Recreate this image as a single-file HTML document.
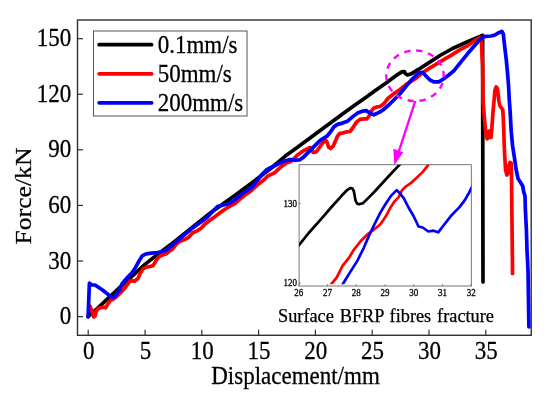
<!DOCTYPE html>
<html><head><meta charset="utf-8"><title>Force-Displacement</title>
<style>
html,body{margin:0;padding:0;background:#fff;}
svg{display:block;}
text{font-family:"Liberation Serif","Times New Roman",serif;fill:#000;stroke:#000;stroke-width:0.25px;}
.t{font-size:23px;}
.m{font-size:18.3px;word-spacing:1.3px;}
.s{font-size:9px;}
</style></head><body>
<svg width="550" height="400" viewBox="0 0 550 400">
<rect width="550" height="400" fill="#fff"/>
<rect x="77.5" y="20" width="453.7" height="315.3" fill="none" stroke="#303030" stroke-width="1.4"/>
<line x1="88.2" y1="335.3" x2="88.2" y2="329.8" stroke="#303030" stroke-width="1.2"/>
<text transform="translate(88.7,359.2) scale(1,1.115)" text-anchor="middle" class="t">0</text>
<line x1="145.1" y1="335.3" x2="145.1" y2="329.8" stroke="#303030" stroke-width="1.2"/>
<text transform="translate(145.5,359.2) scale(1,1.115)" text-anchor="middle" class="t">5</text>
<line x1="201.8" y1="335.3" x2="201.8" y2="329.8" stroke="#303030" stroke-width="1.2"/>
<text transform="translate(202.2,359.2) scale(1,1.115)" text-anchor="middle" class="t">10</text>
<line x1="258.6" y1="335.3" x2="258.6" y2="329.8" stroke="#303030" stroke-width="1.2"/>
<text transform="translate(259.0,359.2) scale(1,1.115)" text-anchor="middle" class="t">15</text>
<line x1="315.4" y1="335.3" x2="315.4" y2="329.8" stroke="#303030" stroke-width="1.2"/>
<text transform="translate(315.8,359.2) scale(1,1.115)" text-anchor="middle" class="t">20</text>
<line x1="372.2" y1="335.3" x2="372.2" y2="329.8" stroke="#303030" stroke-width="1.2"/>
<text transform="translate(372.6,359.2) scale(1,1.115)" text-anchor="middle" class="t">25</text>
<line x1="429.0" y1="335.3" x2="429.0" y2="329.8" stroke="#303030" stroke-width="1.2"/>
<text transform="translate(429.4,359.2) scale(1,1.115)" text-anchor="middle" class="t">30</text>
<line x1="485.8" y1="335.3" x2="485.8" y2="329.8" stroke="#303030" stroke-width="1.2"/>
<text transform="translate(486.2,359.2) scale(1,1.115)" text-anchor="middle" class="t">35</text>
<line x1="77.5" y1="316.6" x2="83" y2="316.6" stroke="#303030" stroke-width="1.2"/>
<text transform="translate(71.3,324.2) scale(1,1.115)" text-anchor="end" class="t">0</text>
<line x1="77.5" y1="261.0" x2="83" y2="261.0" stroke="#303030" stroke-width="1.2"/>
<text transform="translate(71.3,268.6) scale(1,1.115)" text-anchor="end" class="t">30</text>
<line x1="77.5" y1="205.4" x2="83" y2="205.4" stroke="#303030" stroke-width="1.2"/>
<text transform="translate(71.3,213.0) scale(1,1.115)" text-anchor="end" class="t">60</text>
<line x1="77.5" y1="149.8" x2="83" y2="149.8" stroke="#303030" stroke-width="1.2"/>
<text transform="translate(71.3,157.4) scale(1,1.115)" text-anchor="end" class="t">90</text>
<line x1="77.5" y1="94.2" x2="83" y2="94.2" stroke="#303030" stroke-width="1.2"/>
<text transform="translate(71.3,101.8) scale(1,1.115)" text-anchor="end" class="t">120</text>
<line x1="77.5" y1="38.7" x2="83" y2="38.7" stroke="#303030" stroke-width="1.2"/>
<text transform="translate(71.3,46.3) scale(1,1.115)" text-anchor="end" class="t">150</text>
<text transform="translate(295.5,384.2) scale(1,1.115)" text-anchor="middle" class="t">Displacement/mm</text>
<text transform="translate(31,196) scale(1,1.115) rotate(-90)" text-anchor="middle" class="t">Force/kN</text>
<polyline points="88.0,316.5 97.5,308.3 107.5,298.8 125.0,282.7 145.0,264.4 157.5,254.4 170.0,245.1 185.0,233.2 197.5,223.1 210.0,213.3 222.5,204.2 237.5,193.5 250.0,184.2 255.6,180.0 272.0,167.5 285.0,156.3 297.5,147.2 310.0,138.0 322.5,128.8 330.0,123.2 342.5,113.9 355.0,105.0 367.5,96.3 375.0,90.8 387.5,82.0 397.5,74.6 401.9,71.9 404.4,71.5 405.6,73.8 407.5,75.0 411.2,73.8 418.8,69.2 427.5,63.6 440.0,55.5 452.5,48.5 467.5,41.8 480.0,36.5 482.6,35.3 483.0,282.0" fill="none" stroke="#000" stroke-width="3.7" stroke-linejoin="round" stroke-linecap="round"/>
<polyline points="90.0,306.2 91.9,311.2 93.8,316.9 95.0,316.2 96.2,311.2 98.1,308.8 100.6,307.8 103.8,307.2 105.6,307.8 106.9,305.6 108.8,302.5 110.6,300.0 113.1,299.4 116.2,297.0 119.4,294.0 122.5,290.5 125.6,287.0 127.8,284.0 130.5,280.6 134.5,281.2 138.0,278.5 140.0,273.8 143.1,268.8 146.2,267.2 150.0,266.5 153.1,265.6 155.6,261.2 158.8,256.9 162.5,255.0 166.2,253.8 170.0,250.6 172.5,249.0 176.2,244.4 180.0,241.2 185.0,239.5 188.8,237.2 192.5,233.0 197.5,230.6 201.2,228.2 205.0,224.0 210.0,220.2 216.2,215.8 221.2,211.9 225.0,209.3 230.0,206.2 235.0,203.6 240.0,199.0 245.0,195.0 250.0,191.6 259.1,183.5 263.8,180.0 267.5,176.2 271.2,174.4 275.0,172.5 278.8,168.8 282.5,165.6 286.2,163.1 291.2,161.2 297.5,155.0 303.8,150.6 310.0,147.5 311.2,148.1 313.1,152.5 316.2,151.9 319.4,147.5 322.5,143.1 325.6,140.0 326.9,141.9 328.8,147.5 330.6,148.5 333.1,146.2 335.0,141.9 337.6,136.0 340.0,133.3 342.5,133.1 346.2,131.9 350.0,131.5 353.1,127.5 356.2,122.5 360.0,119.4 363.8,118.8 366.9,118.8 369.4,115.6 371.2,111.2 373.8,108.1 376.9,106.9 380.0,106.5 383.8,103.8 387.5,98.8 393.8,93.8 400.0,89.4 406.2,84.4 412.5,80.5 415.0,79.0 421.2,73.8 427.5,69.4 433.8,65.6 440.0,61.8 446.2,58.2 452.5,54.6 455.0,52.8 461.2,49.0 467.5,45.8 473.8,41.2 480.0,37.8 481.5,37.5 481.6,45.0 482.1,58.0 482.7,66.0 483.0,100.0 483.9,112.5 485.0,125.0 486.2,136.2 487.2,138.8 488.1,133.8 489.0,131.2 490.0,137.5 491.0,137.5 491.9,127.5 493.0,112.0 494.1,100.0 495.0,90.0 496.2,86.9 497.5,88.8 498.3,95.0 498.9,101.0 499.8,105.5 501.2,107.5 502.8,110.0 503.3,118.8 503.8,131.2 504.2,145.0 504.8,157.5 505.6,170.0 506.9,175.0 508.1,172.5 508.8,166.2 510.0,162.5 511.2,163.1 511.5,176.2 511.7,195.0 512.5,270.0 512.5,273.4" fill="none" stroke="#f00" stroke-width="3.7" stroke-linejoin="round" stroke-linecap="round"/>
<polyline points="88.1,316.9 89.4,283.1 91.9,285.0 95.0,285.0 102.5,290.0 111.2,296.9 113.8,297.2 116.2,295.0 119.3,290.0 122.0,284.0 123.2,282.5 127.0,277.8 132.0,272.8 135.7,267.2 139.3,260.5 142.5,255.6 146.2,253.8 151.2,253.1 157.5,252.5 162.5,251.5 166.2,250.2 170.0,247.4 172.5,245.2 178.8,239.6 185.0,234.3 191.2,229.0 197.5,224.5 203.8,220.0 207.5,217.0 212.5,211.5 217.5,206.5 222.5,205.2 227.5,204.0 232.5,201.5 237.5,197.7 243.8,192.5 250.0,188.6 252.0,187.0 258.4,179.2 262.4,174.0 266.4,170.0 272.0,167.0 277.5,164.3 283.8,161.2 290.0,159.6 295.0,160.2 299.4,160.0 303.8,156.9 310.0,150.6 316.2,144.4 320.6,140.0 323.8,138.1 326.9,136.2 330.3,132.2 333.8,126.9 337.5,124.4 342.5,123.1 347.5,121.2 352.5,116.9 357.5,113.1 362.5,111.2 366.2,110.6 370.0,113.1 373.8,114.8 377.5,113.1 380.0,111.9 383.0,110.0 388.8,105.0 393.8,100.0 400.0,93.8 406.2,86.2 412.5,78.8 415.0,76.5 417.5,73.9 419.5,72.8 422.5,72.3 426.2,76.2 430.0,80.0 433.8,81.9 438.8,81.9 443.8,78.8 448.8,75.0 453.8,70.8 455.0,69.3 461.2,61.7 467.5,53.8 473.8,46.5 480.0,39.6 483.8,36.6 491.2,36.0 495.0,35.0 498.8,32.7 501.9,31.4 503.3,34.0 504.5,45.0 506.3,60.0 507.5,72.5 508.5,85.0 509.3,100.0 510.1,111.0 511.2,131.2 512.6,146.0 514.4,157.5 516.2,170.0 518.1,178.8 520.6,182.5 522.8,186.2 523.5,191.0 525.0,196.0 525.4,210.0 526.4,230.0 527.0,250.0 528.0,270.0 528.9,327.0" fill="none" stroke="#00f" stroke-width="3.7" stroke-linejoin="round" stroke-linecap="round"/>
<ellipse cx="415" cy="75.8" rx="28.75" ry="25.3" fill="none" stroke="#f0f" stroke-width="2.4" pathLength="14" stroke-dasharray="0.52 0.48" stroke-dashoffset="0.4"/>
<line x1="415.3" y1="101" x2="398.3" y2="153" stroke="#f0f" stroke-width="2.4"/>
<polygon points="394.4,164.9 393.3,148.8 403.3,152.2" fill="#f0f"/>
<rect x="299.1" y="164.7" width="172.2" height="121.3" fill="#fff" stroke="#666" stroke-width="0.9"/>
<clipPath id="ic"><rect x="299.1" y="164.7" width="172.2" height="119.6"/></clipPath>
<g clip-path="url(#ic)">
<polyline points="297.8,246.6 308.7,233.0 321.5,218.6 332.4,206.0 341.6,195.8 347.4,189.8 350.5,188.0 352.2,188.3 353.8,191.0 355.5,200.5 357.0,203.5 359.0,204.3 362.9,203.3 368.9,197.4 374.7,191.5 389.3,175.5 399.4,164.9 401.0,163.0" fill="none" stroke="#000" stroke-width="2.7" stroke-linejoin="round" stroke-linecap="butt"/>
<polyline points="327.5,290.0 331.6,283.8 336.8,277.3 342.5,265.8 349.1,257.6 354.0,249.5 360.5,241.3 367.1,234.7 373.6,229.8 380.2,224.5 385.7,216.6 390.3,207.8 394.8,201.1 398.5,197.4 402.1,190.1 405.8,186.5 411.2,182.8 416.7,177.8 422.8,171.9 428.3,164.9 430.0,162.5" fill="none" stroke="#f00" stroke-width="2.7" stroke-linejoin="round" stroke-linecap="butt"/>
<polyline points="338.5,290.0 343.0,283.8 350.0,272.4 357.3,260.9 363.8,247.8 368.7,236.4 373.6,226.0 380.2,212.9 385.7,203.8 391.2,195.6 396.7,190.1 400.3,193.8 403.9,198.3 408.5,207.5 412.8,214.7 416.2,221.5 418.5,226.5 422.7,227.5 428.3,231.5 433.5,230.7 438.2,232.3 444.3,224.5 452.0,214.7 459.3,207.4 464.8,200.1 468.5,193.8 471.2,188.3 473.0,185.0" fill="none" stroke="#00f" stroke-width="2.7" stroke-linejoin="round" stroke-linecap="butt"/>
</g>
<line x1="298.8" y1="286" x2="298.8" y2="284.2" stroke="#555" stroke-width="0.7"/>
<text transform="translate(298.8,296.4) scale(1,1.115)" text-anchor="middle" class="s">26</text>
<line x1="327.5" y1="286" x2="327.5" y2="284.2" stroke="#555" stroke-width="0.7"/>
<text transform="translate(327.5,296.4) scale(1,1.115)" text-anchor="middle" class="s">27</text>
<line x1="356.3" y1="286" x2="356.3" y2="284.2" stroke="#555" stroke-width="0.7"/>
<text transform="translate(356.3,296.4) scale(1,1.115)" text-anchor="middle" class="s">28</text>
<line x1="385.0" y1="286" x2="385.0" y2="284.2" stroke="#555" stroke-width="0.7"/>
<text transform="translate(385.0,296.4) scale(1,1.115)" text-anchor="middle" class="s">29</text>
<line x1="413.7" y1="286" x2="413.7" y2="284.2" stroke="#555" stroke-width="0.7"/>
<text transform="translate(413.7,296.4) scale(1,1.115)" text-anchor="middle" class="s">30</text>
<line x1="442.5" y1="286" x2="442.5" y2="284.2" stroke="#555" stroke-width="0.7"/>
<text transform="translate(442.5,296.4) scale(1,1.115)" text-anchor="middle" class="s">31</text>
<line x1="471.2" y1="286" x2="471.2" y2="284.2" stroke="#555" stroke-width="0.7"/>
<text transform="translate(471.2,296.4) scale(1,1.115)" text-anchor="middle" class="s">32</text>
<line x1="298.8" y1="203.4" x2="300.8" y2="203.4" stroke="#555" stroke-width="0.7"/>
<text transform="translate(297.0,206.6) scale(1,1.115)" text-anchor="end" class="s">130</text>
<line x1="298.8" y1="283" x2="300.8" y2="283" stroke="#555" stroke-width="0.7"/>
<text transform="translate(297.0,286.2) scale(1,1.115)" text-anchor="end" class="s">120</text>
<text x="278" y="321.5" class="m">Surface BFRP fibres fracture</text>
<rect x="93.5" y="31" width="153.5" height="85" fill="#fff" stroke="#555" stroke-width="1"/>
<line x1="99.2" y1="44.7" x2="151.6" y2="44.7" stroke="#000" stroke-width="3.8" stroke-linecap="round"/>
<text transform="translate(157.7,53.1) scale(1,1.115)" text-anchor="start" class="t">0.1mm/s</text>
<line x1="99.2" y1="73.8" x2="151.6" y2="73.8" stroke="#f00" stroke-width="3.8" stroke-linecap="round"/>
<text transform="translate(157.7,82.2) scale(1,1.115)" text-anchor="start" class="t">50mm/s</text>
<line x1="99.2" y1="102.8" x2="151.6" y2="102.8" stroke="#00f" stroke-width="3.8" stroke-linecap="round"/>
<text transform="translate(157.7,111.2) scale(1,1.115)" text-anchor="start" class="t">200mm/s</text>
</svg>
</body></html>
